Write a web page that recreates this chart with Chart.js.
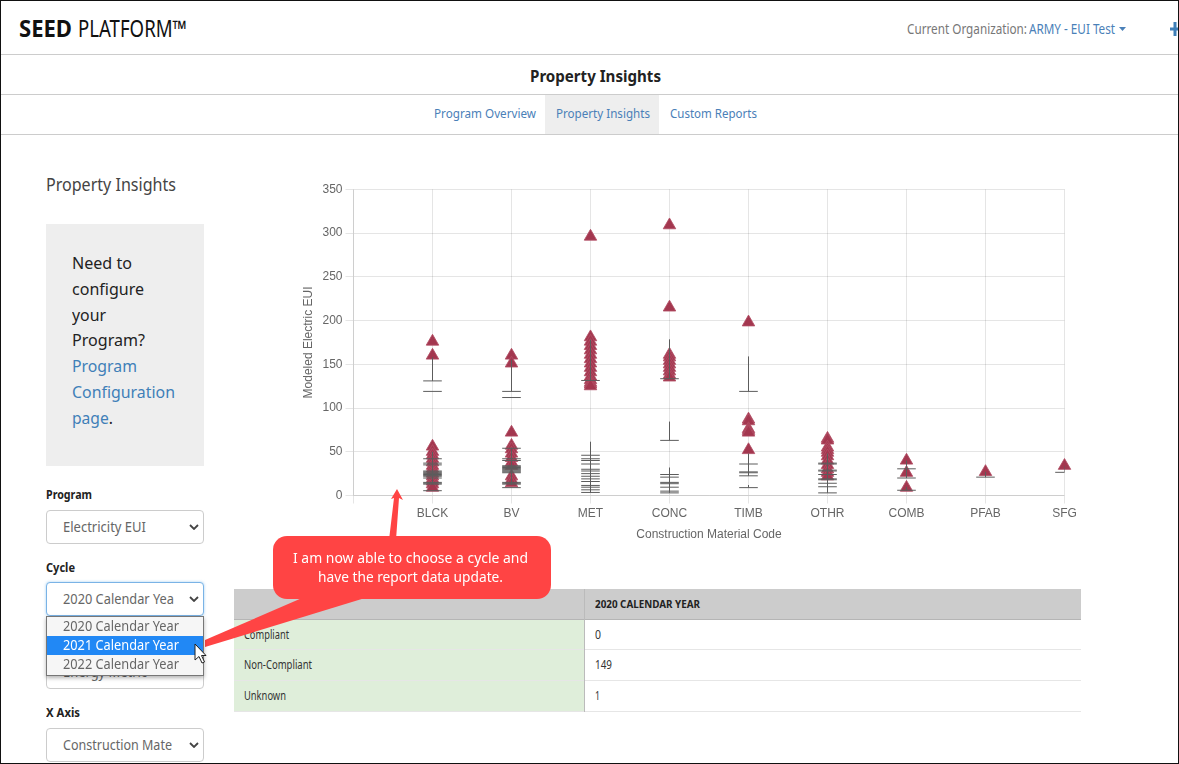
<!DOCTYPE html>
<html>
<head>
<meta charset="utf-8">
<script src="https://cdn.jsdelivr.net/npm/chart.js@4/dist/chart.umd.min.js"></script>
<style>
html,body{margin:0;padding:0;background:#fff;overflow:hidden}
#page{position:relative;width:1179px;height:764px;overflow:hidden;font-family:"Noto Sans",sans-serif;background:#fff}
.t{position:absolute;white-space:nowrap;line-height:20px;height:20px;transform-origin:0 50%;color:#333}
.b{position:absolute;box-sizing:border-box}
.sel{position:absolute;box-sizing:border-box;left:46px;width:158px;background:#fff;border:1px solid #ccc;border-radius:4px}
.chev{position:absolute;left:189px;width:10px;height:6px}
#wrap{position:absolute;left:296px;top:178px;width:794px;height:367px}
svg.o{position:absolute;left:0;top:0}
</style>
</head>
<body>
<div id="page">
  <!-- nav -->
  <div class="b" style="left:0;top:54px;width:1179px;height:1px;background:#ccc"></div>
  <div class="b" style="left:0;top:94px;width:1179px;height:1px;background:#ccc"></div>
  <div class="b" style="left:0;top:134px;width:1179px;height:1px;background:#ccc"></div>
  <div class="b" style="left:545px;top:95px;width:114px;height:39px;background:#eee"></div>

  <span class="t" data-w="53" style="left:19px;top:18px;font-size:23px;font-weight:700;color:#111">SEED</span>
  <span class="t" data-w="109" style="left:78px;top:18px;font-size:23px;color:#111">PLATFORM™</span>
  <span class="t" data-w="120" style="left:907px;top:19px;font-size:14px;color:#777">Current Organization:</span>
  <span class="t" data-w="86" style="left:1029px;top:19px;font-size:14px;color:#4a80b8">ARMY - EUI Test</span>
  <span class="t" data-w="131" style="left:530px;top:66px;font-size:16px;font-weight:700;color:#222">Property Insights</span>
  <span class="t" data-w="102" style="left:434px;top:104px;font-size:12.5px;color:#4a80b8">Program Overview</span>
  <span class="t" data-w="94" style="left:556px;top:104px;font-size:12.5px;color:#4a80b8">Property Insights</span>
  <span class="t" data-w="87" style="left:670px;top:104px;font-size:12.5px;color:#4a80b8">Custom Reports</span>

  <!-- left column -->
  <span class="t" data-w="130" style="left:46px;top:174px;font-size:18px;color:#444">Property Insights</span>
  <div class="b" style="left:46px;top:224px;width:158px;height:242px;background:#eee"></div>
  <span class="t" data-w="60" style="left:72px;top:253px;font-size:17px;color:#222">Need to</span>
  <span class="t" data-w="72" style="left:72px;top:279px;font-size:17px;color:#222">configure</span>
  <span class="t" data-w="34" style="left:72px;top:305px;font-size:17px;color:#222">your</span>
  <span class="t" data-w="73" style="left:72px;top:330px;font-size:17px;color:#222">Program?</span>
  <span class="t" data-w="65" style="left:72px;top:356px;font-size:17px;color:#3f7fb8">Program</span>
  <span class="t" data-w="103" style="left:72px;top:382px;font-size:17px;color:#3f7fb8">Configuration</span>
  <span class="t" data-w="41" style="left:72px;top:408px;font-size:17px;color:#3f7fb8">page<span style="color:#222">.</span></span>

  <span class="t" data-w="46" style="left:46px;top:485px;font-size:12.5px;font-weight:700;color:#222">Program</span>
  <div class="sel" style="top:510px;height:34px"></div>
  <span class="t" data-w="83" style="left:63px;top:517px;font-size:14px;color:#666">Electricity EUI</span>
  <svg class="chev" style="top:524px" viewBox="0 0 10 6"><path d="M1 1l4 4 4-4" fill="none" stroke="#444" stroke-width="1.8"/></svg>

  <span class="t" data-w="29" style="left:46px;top:558px;font-size:12.5px;font-weight:700;color:#222">Cycle</span>
  <div class="sel" style="top:655px;height:34px"></div>
  <span class="t" data-w="84" style="left:63px;top:662px;font-size:14px;color:#666">Energy Metric</span>
  <div class="sel" style="top:582px;height:34px;border-color:#7ab3e6;box-shadow:0 0 3px rgba(102,175,233,.6)"></div>
  <span class="t" data-w="111" style="left:63px;top:589px;font-size:14px;color:#666">2020 Calendar Yea</span>
  <svg class="chev" style="top:596px" viewBox="0 0 10 6"><path d="M1 1l4 4 4-4" fill="none" stroke="#444" stroke-width="1.8"/></svg>

  <span class="t" data-w="34" style="left:46px;top:703px;font-size:12.5px;font-weight:700;color:#222">X Axis</span>
  <div class="sel" style="top:728px;height:34px"></div>
  <span class="t" data-w="109" style="left:63px;top:735px;font-size:14px;color:#666">Construction Mate</span>
  <svg class="chev" style="top:742px" viewBox="0 0 10 6"><path d="M1 1l4 4 4-4" fill="none" stroke="#444" stroke-width="1.8"/></svg>

  <!-- chart -->
  <div id="wrap"><canvas id="chart"></canvas></div>

  <!-- table -->
  <div class="b" style="left:234px;top:589px;width:847px;height:31px;background:#ccc;border-bottom:1px solid #b5b5b5"></div>
  <div class="b" style="left:234px;top:620px;width:350px;height:92px;background:#dfeeda"></div>
  <div class="b" style="left:234px;top:649px;width:847px;height:1px;background:#e6e6e6"></div>
  <div class="b" style="left:234px;top:680px;width:847px;height:1px;background:#e6e6e6"></div>
  <div class="b" style="left:234px;top:711px;width:847px;height:1px;background:#e6e6e6"></div>
  <div class="b" style="left:584px;top:589px;width:1px;height:123px;background:#bbb"></div>
  <span class="t" data-w="105" style="left:595px;top:594px;font-size:11px;font-weight:700;color:#222">2020 CALENDAR YEAR</span>
  <span class="t" data-w="45" style="left:244px;top:625px;font-size:12px">Compliant</span>
  <span class="t" data-w="68" style="left:244px;top:655px;font-size:12px">Non-Compliant</span>
  <span class="t" data-w="42" style="left:244px;top:686px;font-size:12px">Unknown</span>
  <span class="t" data-w="6" style="left:595px;top:625px;font-size:12px">0</span>
  <span class="t" data-w="17" style="left:595px;top:655px;font-size:12px">149</span>
  <span class="t" data-w="5" style="left:595px;top:686px;font-size:12px">1</span>

  <!-- annotations under dropdown -->
  <svg class="o" width="1179" height="764" style="pointer-events:none">
    <polygon points="389,540 394,498 391,499 397,489 403,500 399,498 396,540" fill="#ff4444"/>
    <polygon points="302,598 365,598 205,647 205,640" fill="#ff4444"/>
    <rect x="273" y="536" width="278" height="63" rx="14" fill="#ff4444"/>
  </svg>
  <span class="t" data-w="235" style="left:293px;top:548px;font-size:14px;color:#fff">I am now able to choose a cycle and</span>
  <span class="t" data-w="185" style="left:318px;top:567px;font-size:14px;color:#fff">have the report data update.</span>

  <!-- dropdown -->
  <div class="b" style="left:46px;top:616px;width:158px;height:60px;background:#f6f6f6;border:1px solid #777;box-shadow:0 2px 4px rgba(0,0,0,.3)"></div>
  <div class="b" style="left:47px;top:636px;width:156px;height:19px;background:#2188f5"></div>
  <span class="t" data-w="116" style="left:63px;top:616px;font-size:14px;color:#666">2020 Calendar Year</span>
  <span class="t" data-w="116" style="left:63px;top:635px;font-size:14px;color:#fff">2021 Calendar Year</span>
  <span class="t" data-w="116" style="left:63px;top:654px;font-size:14px;color:#666">2022 Calendar Year</span>

  <!-- icons, cursor, frame -->
  <svg class="o" width="1179" height="764" style="pointer-events:none">
    <polygon points="1119,27 1126,27 1122.5,31" fill="#4a80b8"/>
    <path d="M1175 22v14M1170 29h9" stroke="#3f7fb8" stroke-width="3" fill="none"/>
    <polygon points="195,644 195,660 199,656.5 202,663 204.5,662 201.5,655.5 206,655.5" fill="#fff" stroke="#222" stroke-width="1"/>
    <rect x="0.5" y="0.5" width="1178" height="763" fill="none" stroke="#111" stroke-width="1"/>
  </svg>
</div>

<script>
// Categories; the empty first slot is the axis position left of BLCK
const categories = ['', 'BLCK', 'BV', 'MET', 'CONC', 'TIMB', 'OTHR', 'COMB', 'PFAB', 'SFG'];
const yTicksMax = 350;

// Modeled Electric EUI (triangles)
const blckActual = [176, 160, 56, 50, 46, 42, 38, 34, 31, 28, 25, 22, 19, 16, 13, 9];
const bvActual   = [160, 151, 72, 57, 53, 48, 43, 38, 34, 22, 18, 14];
const metActual  = [296, 181, 176, 171, 166, 161, 156, 151, 146, 141, 136, 132, 129, 127, 125];
const concActual = [309, 215, 161, 158, 154, 150, 146, 142, 138, 135];
const timbActual = [198, 87, 85, 76, 74, 72, 52];
const othrActual = [65, 63, 55, 52, 49, 45, 40, 35, 30, 26, 22];
const combActual = [40, 26, 9];
const pfabActual = [27];
const sfgActual  = [34];

// Target values (horizontal dashes)
const blckTarget = [131, 119, 42, 37, 35, 28, 27, 26, 25, 24, 23, 22, 20, 15, 14, 13, 5.5];
const bvTarget   = [119, 112, 54, 42, 40, 34, 33, 32, 31, 30, 29, 28, 27, 26, 15, 14, 13, 9];
const metTarget  = [131.5, 46, 42, 40, 36, 30, 28, 25, 22, 19, 16, 11.5, 9.5, 6.5, 3.5];
const concTarget = [133.5, 63, 24, 21, 15, 13.5, 9.5, 5, 3];
const timbTarget = [119, 36, 27, 26, 22.5, 9];
const othrTarget = [37, 36, 29, 28, 24, 19, 18, 14, 10, 3];
const combTarget = [30.5, 20, 6];
const pfabTarget = [21];
const sfgTarget  = [26.5];

// Vertical connector spans [low, high]
const blckSpans = [[131, 158], [13, 50]];
const bvSpans   = [[119, 155], [12, 54]];
const metSpans  = [[131, 178], [3.5, 61.5]];
const concSpans = [[133.5, 178.5], [63, 84.5], [3, 32]];
const timbSpans = [[119, 159], [22.5, 48], [9, 12]];
const othrSpans = [[3, 48]];
const combSpans = [[20, 40], [6, 10]];
const pfabSpans = [[21, 27]];
const sfgSpans  = [[26.5, 34]];

const actualBy = [blckActual, bvActual, metActual, concActual, timbActual, othrActual, combActual, pfabActual, sfgActual];
const targetBy = [blckTarget, bvTarget, metTarget, concTarget, timbTarget, othrTarget, combTarget, pfabTarget, sfgTarget];
const spansBy  = [blckSpans, bvSpans, metSpans, concSpans, timbSpans, othrSpans, combSpans, pfabSpans, sfgSpans];

const named = categories.slice(1);
const pts = by => named.flatMap((c, i) => by[i].map(v => ({x: c, y: v})));
const spanPts = named.flatMap((c, i) => spansBy[i].flatMap(([a, b]) => [{x: c, y: a}, {x: c, y: b}, {x: c, y: null}]));

// Fit page text widths to the reference (no condensed web font available)
document.fonts.ready.then(() => {
  document.querySelectorAll('.t[data-w]').forEach(el => {
    const w = el.getBoundingClientRect().width;
    el.style.transform = 'scaleX(' + (+el.dataset.w / w) + ')';
  });
});

Chart.defaults.font.family = '"Liberation Sans", Arial, sans-serif';
Chart.defaults.font.size = 12;
Chart.defaults.color = '#666';

new Chart(document.getElementById('chart'), {
  type: 'line',
  data: {
    labels: categories,
    datasets: [
      {label: 'Connector', data: spanPts, order: 1, showLine: true, spanGaps: false, borderColor: '#5c5c5c', borderWidth: 1, pointRadius: 0, clip: 0},
      {label: 'Target', data: pts(targetBy), order: 2, showLine: false, pointStyle: 'line', pointRadius: 9.3, borderColor: '#5c5c5c', pointBorderColor: '#5c5c5c', pointBorderWidth: 1, clip: 0},
      {label: 'Modeled Electric EUI', data: pts(actualBy), order: 3, showLine: false, pointStyle: 'triangle', pointRadius: 7.2, pointBackgroundColor: '#a3374f', pointBorderColor: 'rgba(178,78,100,.85)', pointBorderWidth: 1, clip: false}
    ]
  },
  options: {
    responsive: true,
    maintainAspectRatio: false,
    animation: false,
    events: [],
    layout: {padding: {top: 11.3, right: 25.5, left: 0, bottom: 0}},
    plugins: {legend: {display: false}, tooltip: {enabled: false}},
    scales: {
      x: {
        type: 'category',
        offset: false,
        ticks: {autoSkip: false, maxRotation: 0, color: '#666'},
        title: {display: true, text: 'Construction Material Code', color: '#666', padding: {top: 7, bottom: 3}},
        afterFit: s => { s.height = 49.5; }
      },
      y: {
        min: 0,
        max: yTicksMax,
        ticks: {stepSize: 50, color: '#666'},
        title: {display: true, text: 'Modeled Electric EUI', color: '#666', padding: {top: 5, bottom: 4}},
        afterFit: s => { s.width = 57.5; }
      }
    }
  }
});
</script>
</body>
</html>
